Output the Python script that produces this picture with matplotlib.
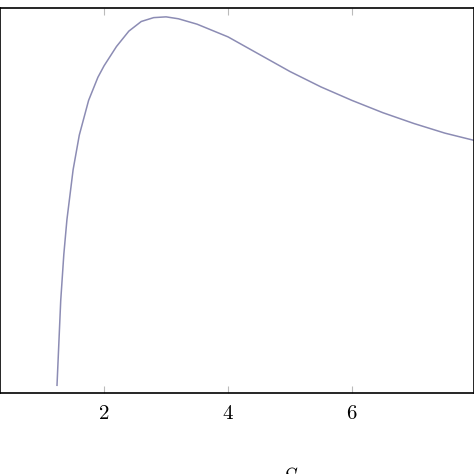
import matplotlib.pyplot as plt

plt.rcParams['mathtext.fontset'] = 'cm'
plt.rcParams['font.family'] = 'serif'
plt.rcParams['font.serif'] = ['DejaVu Serif']

# curve
s_vals = [1.24, 1.27, 1.3, 1.35, 1.4, 1.5, 1.6, 1.75, 1.9, 2.0, 2.2, 2.4, 2.6, 2.8, 3.0,
          3.2, 3.5, 4.0, 4.5, 5.0, 5.5, 6.0, 6.5, 7.0, 7.5, 8.0]
y_vals = [0.02, 0.13, 0.24, 0.36, 0.45, 0.58, 0.67, 0.76, 0.82, 0.85, 0.90, 0.94, 0.965, 0.975, 0.977,
          0.972, 0.958, 0.925, 0.88, 0.835, 0.795, 0.76, 0.728, 0.70, 0.675, 0.655]
xticks = [2, 4, 6]

fig = plt.figure(figsize=(4.74, 4.74), dpi=100)
ax = fig.add_axes([0.0, 1 - 393 / 474, 1.0, 385 / 474])
ax.plot(s_vals, y_vals, color='#8c8cb4', lw=1.1)
ax.set_xlim(0.32, 7.97)
ax.set_ylim(0, 1)
ax.set_xticks(xticks)
ax.set_xticklabels([f'${t}$' for t in xticks], fontsize=15)
ax.set_yticks([])
ax.tick_params(axis='x', direction='in', top=True, length=5, color='#bbbbbb', pad=8)
for sp in ax.spines.values():
    sp.set_linewidth(1.2)
ax.set_xlabel('$S$', fontsize=17)
ax.xaxis.set_label_coords(290 / 474, -0.19)
fig.savefig('out.png', dpi=100)
